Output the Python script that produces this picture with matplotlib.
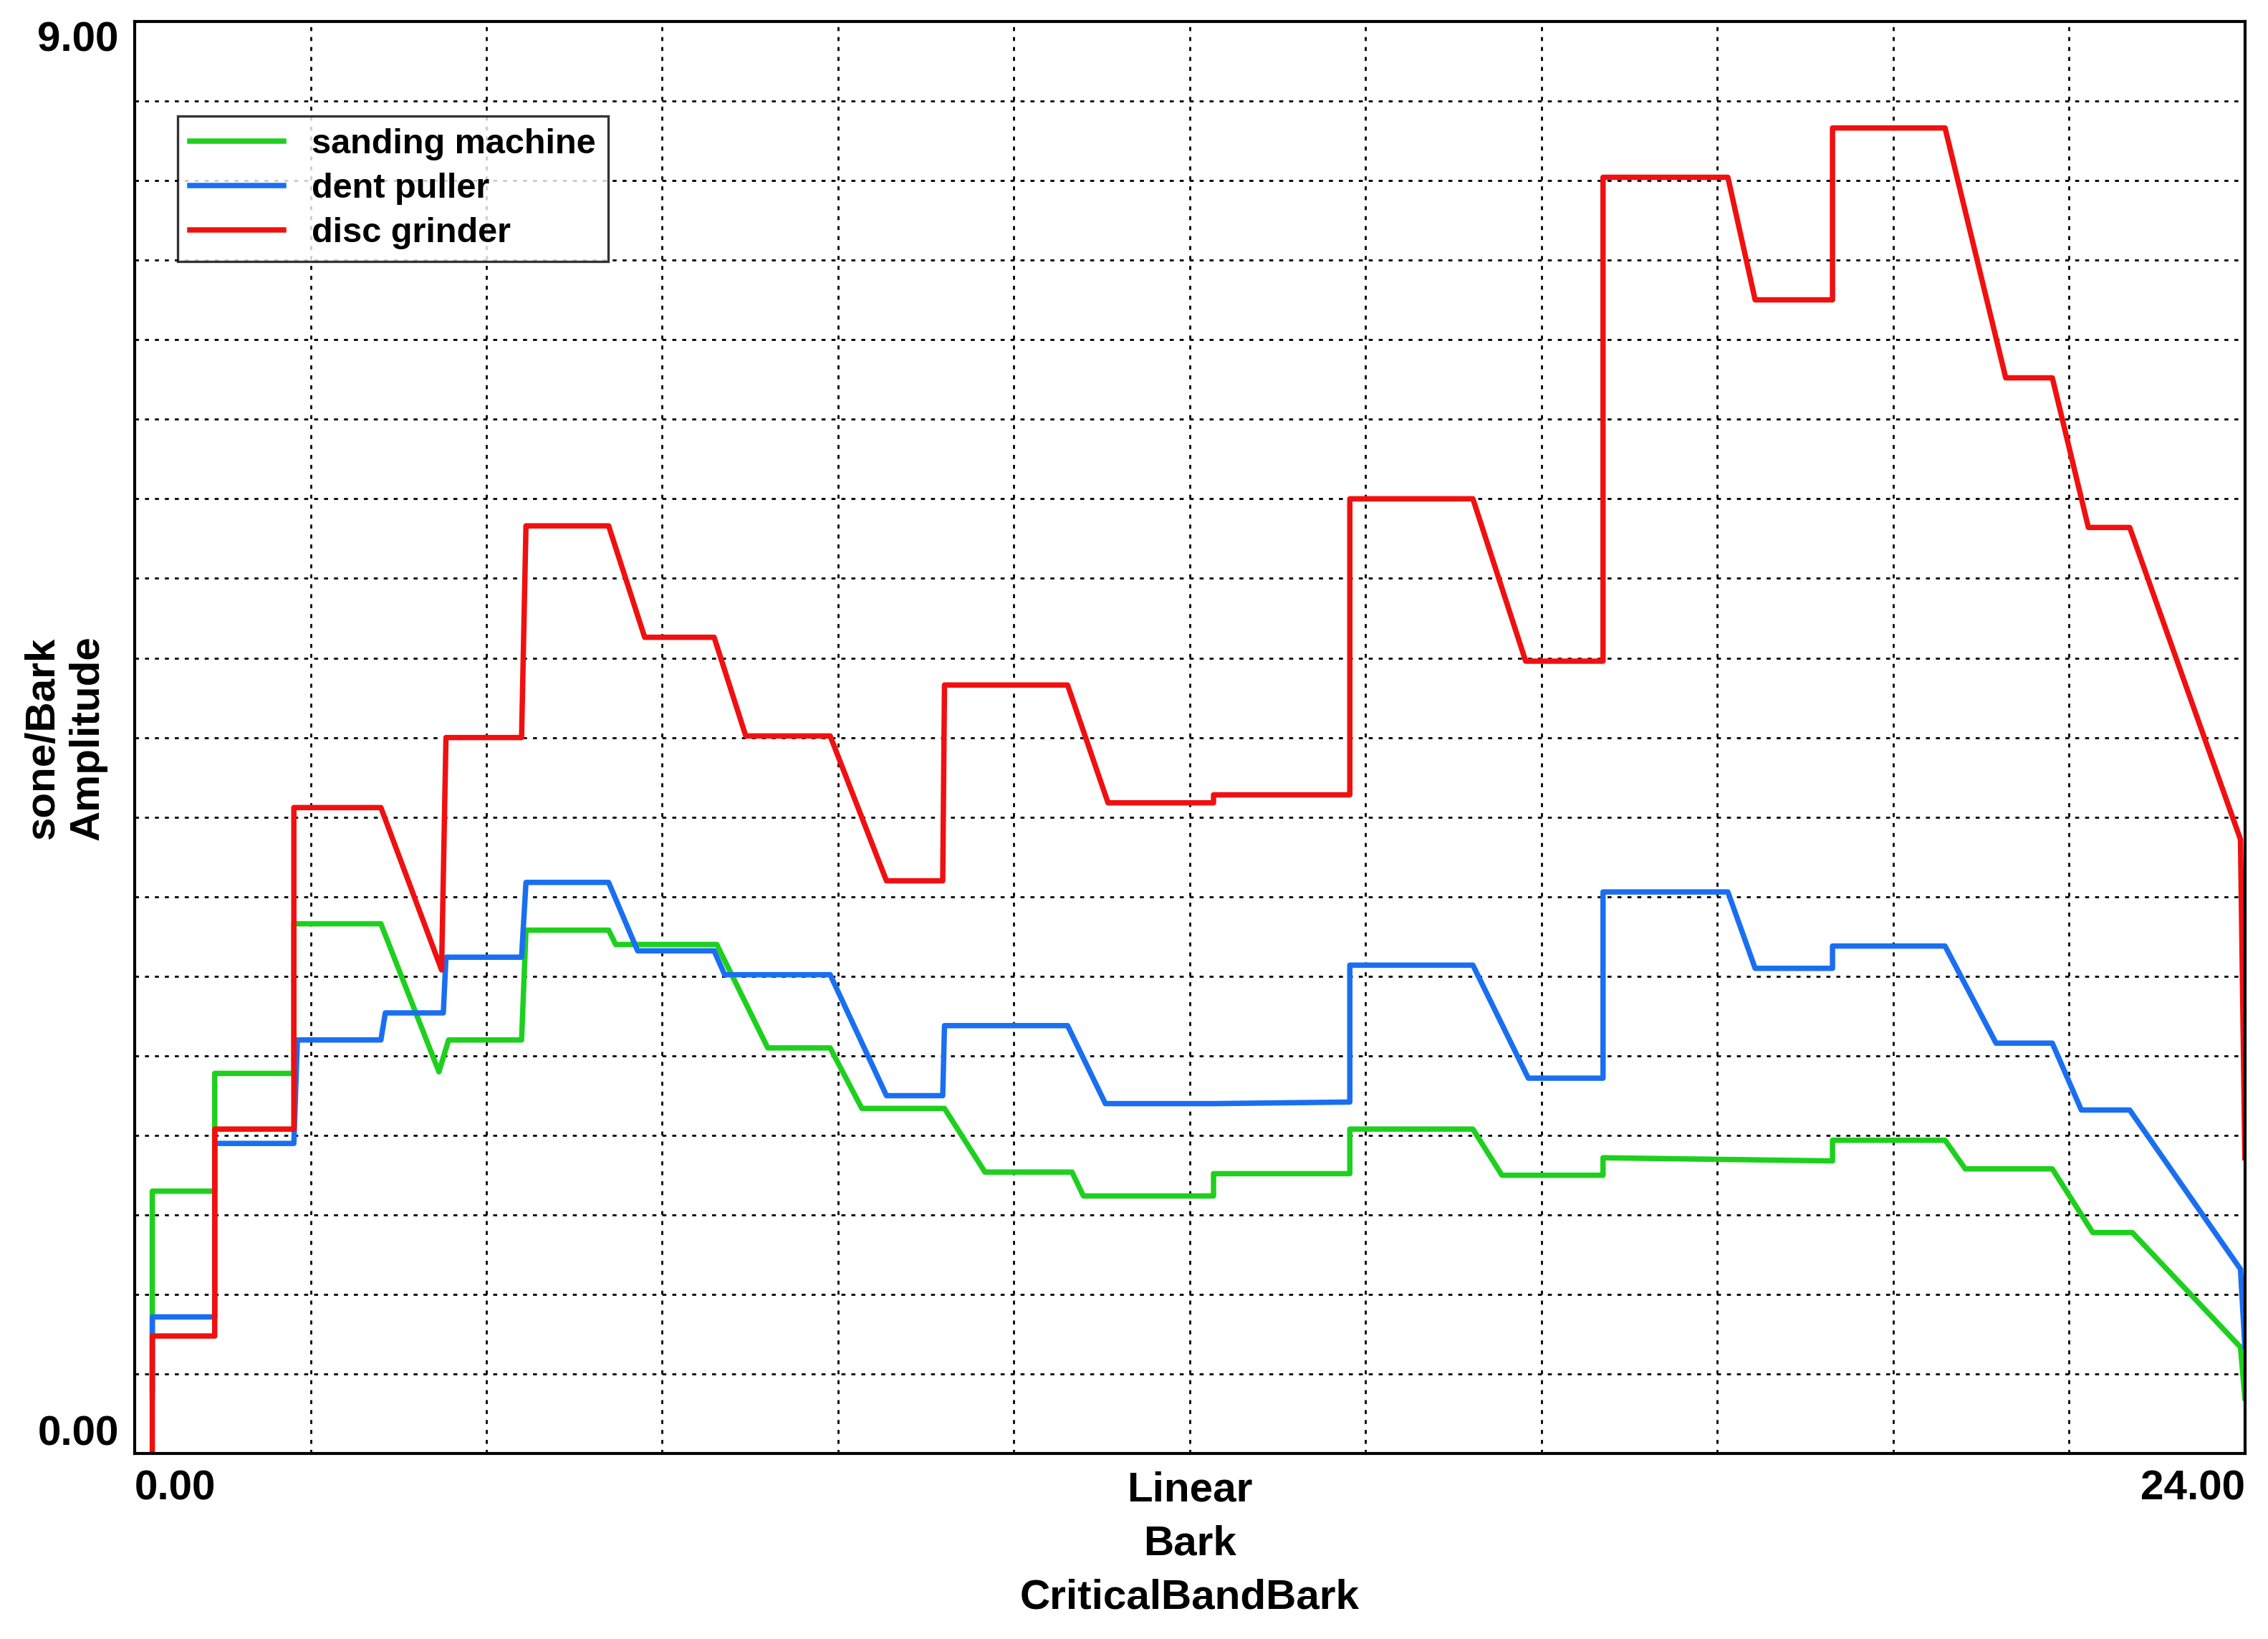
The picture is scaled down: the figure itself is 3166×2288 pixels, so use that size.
import matplotlib.pyplot as plt

plt.rcParams['font.family'] = ['Liberation Sans', 'DejaVu Sans']
plt.rcParams['font.weight'] = 'bold'

# values (x in Bark, y in sone/Bark)
red_x = [0.2, 0.2, 0.91, 0.91, 1.81, 1.81, 2.8, 3.49, 3.54, 4.4, 4.45, 5.39, 5.8, 6.59, 6.95,
         7.91, 8.55, 9.19, 9.21, 10.61, 11.07, 12.27, 12.27, 13.82, 13.82, 15.22, 15.82, 16.7,
         16.7, 18.12, 18.43, 19.31, 19.31, 20.59, 21.28, 21.81, 22.22, 22.69, 23.95, 24.0]
red_y = [0.0, 0.74, 0.74, 2.04, 2.04, 4.06, 4.06, 3.04, 4.5, 4.5, 5.83, 5.83, 5.13, 5.13, 4.51,
         4.51, 3.6, 3.6, 4.83, 4.83, 4.09, 4.09, 4.14, 4.14, 6.0, 6.0, 4.98, 4.98,
         8.02, 8.02, 7.25, 7.25, 8.33, 8.33, 6.76, 6.76, 5.82, 5.82, 3.86, 1.86]

green_x = [0.2, 0.2, 0.91, 0.91, 1.81, 1.81, 2.8, 3.46, 3.57, 4.4, 4.45, 5.39, 5.47, 6.62, 7.2,
           7.91, 8.27, 9.21, 9.67, 10.66, 10.79, 12.27, 12.27, 13.82, 13.82, 15.22, 15.55,
           16.7, 16.7, 19.31, 19.31, 20.59, 20.82, 21.81, 22.27, 22.72, 23.95, 24.0]
green_y = [0.35, 1.65, 1.65, 2.39, 2.39, 3.33, 3.33, 2.4, 2.6, 2.6, 3.29, 3.29, 3.2, 3.2, 2.55,
           2.55, 2.17, 2.17, 1.77, 1.77, 1.62, 1.62, 1.76, 1.76, 2.04, 2.04, 1.75,
           1.75, 1.86, 1.84, 1.97, 1.97, 1.79, 1.79, 1.39, 1.39, 0.67, 0.35]

blue_x = [0.2, 0.2, 0.91, 0.91, 1.81, 1.85, 2.8, 2.85, 3.51, 3.54, 4.4, 4.45, 5.39, 5.72,
          6.59, 6.71, 7.91, 8.55, 9.19, 9.21, 10.61, 11.04, 12.27, 13.82, 13.82, 15.22, 15.85,
          16.7, 16.7, 18.12, 18.43, 19.31, 19.31, 20.59, 21.17, 21.81, 22.14, 22.69, 23.95, 24.0]
blue_y = [0.4, 0.86, 0.86, 1.95, 1.95, 2.6, 2.6, 2.77, 2.77, 3.12, 3.12, 3.59, 3.59, 3.16,
          3.16, 3.01, 3.01, 2.25, 2.25, 2.69, 2.69, 2.2, 2.2, 2.21, 3.07, 3.07, 2.36,
          2.36, 3.53, 3.53, 3.05, 3.05, 3.19, 3.19, 2.58, 2.58, 2.16, 2.16, 1.16, 0.67]

fig = plt.figure(figsize=(15.83, 11.44), dpi=200)
ax = fig.add_axes([0.0594, 0.113, 0.9304, 0.874])

ax.plot(green_x, green_y, color='#1ed01e', lw=2.7, label='sanding machine')
ax.plot(blue_x, blue_y, color='#1a6ff0', lw=2.7, label='dent puller')
ax.plot(red_x, red_y, color='#f01010', lw=2.7, label='disc grinder')

ax.set_xlim(0, 24)
ax.set_ylim(0, 9)
ax.set_xticks(range(0, 25, 2), minor=True)
ax.set_yticks([i * 0.5 for i in range(19)], minor=True)
ax.grid(True, which='minor', color='black', linestyle=(0, (2, 3)), lw=1.0)
ax.tick_params(which='minor', length=0)
ax.set_yticks([0, 9])
ax.set_yticklabels(['0.00', '9.00'], fontsize=21, fontweight='bold')
ax.set_xticks([0, 24])
ax.set_xticklabels(['0.00', '24.00'], fontsize=21, fontweight='bold')
ax.get_xticklabels()[0].set_ha('left')
ax.get_xticklabels()[1].set_ha('right')
ax.get_yticklabels()[0].set_va('bottom')
ax.get_yticklabels()[1].set_va('top')
ax.tick_params(which='major', length=0, pad=8)
for s in ax.spines.values():
    s.set_linewidth(1.5)

ax.text(0.5, -0.012, 'Linear\nBark\nCriticalBandBark', transform=ax.transAxes,
        ha='center', va='top', fontsize=21, fontweight='bold', linespacing=1.5)
ax.set_ylabel('sone/Bark\nAmplitude', fontsize=21, fontweight='bold', labelpad=-35)

leg = ax.legend(loc='upper left', bbox_to_anchor=(0.012, 0.946), fontsize=17.5,
                frameon=True, fancybox=False, edgecolor='black', handlelength=2.7,
                borderpad=0.35, labelspacing=0.35)
leg.get_frame().set_linewidth(1.2)
for t in leg.get_texts():
    t.set_fontweight('bold')

fig.savefig('out.png')
